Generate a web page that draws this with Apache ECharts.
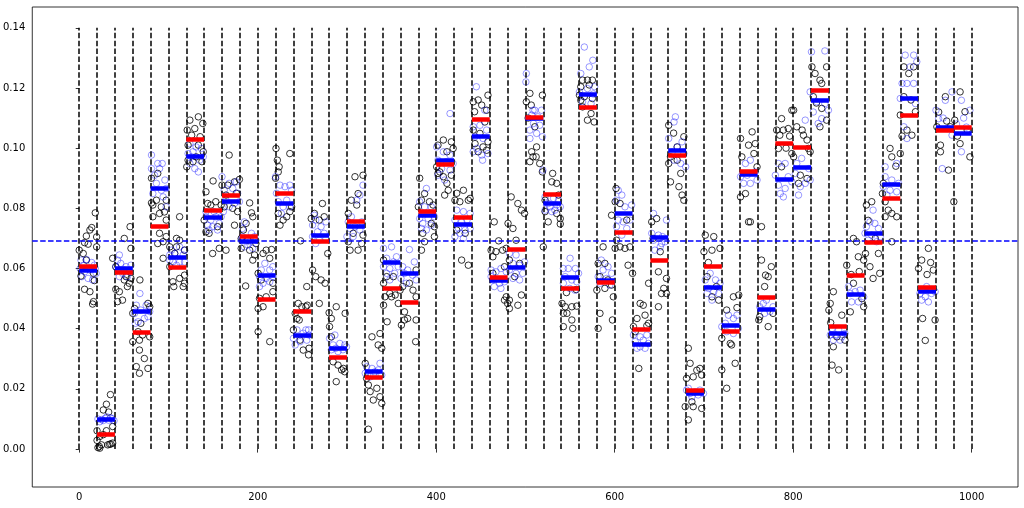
<!DOCTYPE html>
<html><head><meta charset="utf-8">
<script src="https://cdn.jsdelivr.net/npm/echarts@6/dist/echarts.min.js"></script>
<style>html,body{margin:0;padding:0;background:#fff}#c{width:1024px;height:508px}</style>
</head><body><div id="c"></div>
<script>
// group boundaries (dashed vertical lines)
const boundaries = [0,20,40,60,80,100,120,140,160,180,200,220,240,260,280,300,320,340,360,380,400,420,440,460,480,500,520,540,560,580,600,620,640,660,680,700,720,740,760,780,800,820,840,860,880,900,920,940,960,980,1000];
const xTicks = [0,200,400,600,800,1000];
const yTicks = [0,0.02,0.04,0.06,0.08,0.1,0.12,0.14];
const overallMean = 0.0693;

// red bars: mean of observed (black) points per group
const dataMean = [0.0609,0.0048,0.0587,0.0388,0.0742,0.0603,0.1029,0.0792,0.0843,0.0708,0.0497,0.0850,0.0459,0.0691,0.0304,0.0758,0.0239,0.0535,0.0487,0.0790,0.0946,0.0772,0.1097,0.0571,0.0663,0.1102,0.0847,0.0536,0.1136,0.0555,0.0720,0.0397,0.0626,0.0976,0.0194,0.0608,0.0392,0.0922,0.0503,0.1015,0.1004,0.1193,0.0409,0.0578,0.0687,0.0834,0.1110,0.0539,0.1058,0.1069];
// blue bars: mean of sampled (blue) points per group
const sampleMean = [0.0593,0.0099,0.0600,0.0459,0.0867,0.0636,0.0974,0.0771,0.0822,0.0692,0.0579,0.0818,0.0378,0.0711,0.0336,0.0739,0.0257,0.0620,0.0584,0.0776,0.0960,0.0746,0.1041,0.0560,0.0604,0.1100,0.0818,0.0570,0.1180,0.0562,0.0785,0.0348,0.0704,0.0992,0.0185,0.0537,0.0410,0.0914,0.0465,0.0896,0.0938,0.1159,0.0384,0.0514,0.0717,0.0879,0.1165,0.0523,0.1071,0.1049];

// black circles: [offset within group, value]
const dataPts = [
[[18,.0785],[14,.0736],[12,.0728],[8,.0708],[19.5,.0705],[6,.0686],[10,.0681],[19.5,.0672],[0,.0661],[4.5,.065],[8,.0628],[16,.0584],[6,.0531],[12,.0523],[16,.049],[15,.0482],[2,.0575],[17,.0560]],
[[15,.0181],[10.5,.0149],[7,.0130],[13,.0123],[0,.0061],[10.5,.0061],[17.5,.0075],[0,.0029],[2.5,.0009],[3,.0003],[5,.0014],[12,.0014],[15.5,.0017],[17.5,.002],[7,.0048],[3,.0042],[1,.0005],[14,.0016]],
[[17,.0739],[10.5,.0700],[18,.0667],[-2.5,.0634],[1,.0606],[10.5,.0562],[16,.0551],[1,.0531],[5,.0523],[8.5,.0495],[3,.049],[14,.054],[18,.0567],[12.5,.0573]],
[[8,.0562],[17,.0484],[2,.0467],[0,.0451],[0,.0357],[7.5,.0362],[7.5,.0329],[13,.0301],[4,.0274],[17,.0268],[7.5,.0252],[19,.0373],[11,.0379],[6,.0390],[9,.0418],[19,.0473]],
[[1,.09],[8,.0916],[1,.0818],[6.5,.0827],[17.5,.0827],[2.5,.0811],[12,.0805],[15.5,.0788],[2.5,.0772],[10,.0783],[17.5,.0761],[10,.0717],[14,.0689],[8,.0683],[17.5,.0706],[14,.0634]],
[[12.5,.0772],[9,.07],[12.5,.0694],[1.5,.0672],[9,.0672],[18,.0661],[7,.065],[1.5,.0606],[18,.0578],[12.5,.0567],[5,.0556],[18,.0551],[6,.054],[16.5,.054]],
[[4,.1093],[13.5,.1104],[18.5,.1082],[1,.106],[9.5,.1065],[6,.1043],[15.5,.1038],[2,.101],[13.5,.101],[19,.0988],[2,.096],[7.5,.0955],[17.5,.0955],[0.5,.0938],[11,.0971]],
[[10,.0891],[2,.0855],[4,.0816],[13,.0822],[19,.0811],[7.5,.0811],[0,.0761],[2,.0722],[5.5,.0717],[15,.0739],[9.5,.065],[17,.0667]],
[[8,.0977],[0,.0877],[6.5,.0877],[14,.0888],[19.5,.0896],[4.5,.0844],[16,.085],[2.5,.0805],[12,.08],[17.5,.0789],[14,.0744],[4.5,.0661]],
[[11,.0818],[13,.0785],[14.5,.0772],[7,.075],[1.5,.0700],[9,.0694],[18,.0683],[1.5,.0667],[11,.0661],[16.5,.0645],[14.5,.0628],[6.5,.0542],[4,.0728]],
[[15.5,.0663],[9.5,.0661],[6,.065],[13.5,.0634],[0.5,.0584],[4,.0562],[17,.0551],[2,.0501],[9.5,.0506],[0.5,.0467],[17,.0523],[0.5,.0390],[13.5,.0357],[6,.0473]],
[[0.5,.0999],[2,.096],[4,.0938],[16,.0982],[0,.09],[3,.0921],[18,.0805],[16,.0789],[12.5,.0772],[8.5,.0761],[5,.0744],[3,.0783]],
[[5.5,.0484],[9.5,.0473],[15.5,.0478],[2,.0451],[4,.0434],[0,.0396],[7.5,.0362],[11,.0329],[17,.0313],[15,.054],[14,.0473],[6.5,.0429],[17.5,.0335],[8,.0692]],
[[12.5,.0816],[3.5,.0783],[0,.0766],[14.5,.0772],[9,.0761],[18.5,.065],[1.5,.0595],[5,.0573],[11,.0562],[15.5,.0551],[9,.0484]],
[[8,.0473],[0,.0453],[2.5,.0434],[18,.0451],[0.5,.0407],[2.5,.0373],[4.5,.029],[10,.0279],[14,.0263],[17.5,.0257],[8,.0224],[16,.0268]],
[[9,.0905],[18,.0910],[12.5,.0849],[5,.0827],[11,.0811],[1.5,.0783],[7,.0717],[1.5,.0689],[12.5,.0661],[3.5,.0661],[16.5,.0683],[18,.0711]],
[[8,.0373],[17,.0384],[15,.0346],[19,.0335],[0.5,.0285],[4,.0213],[13.5,.0202],[6,.0191],[9.5,.0163],[19,.0152],[4,.0066],[2,.0235],[17,.0174]],
[[1,.0628],[4.5,.0573],[12,.0573],[1,.0551],[8,.0517],[2.5,.0506],[14,.0512],[19.5,.0528],[1,.0478],[17.5,.0484],[5,.0423],[10,.0506]],
[[17.5,.0595],[10,.0551],[2.5,.054],[14,.0528],[17.5,.0506],[4.5,.0429],[8,.0434],[1,.0412],[17.5,.0429],[17,.0357],[4.5,.0456]],
[[1.5,.09],[3.5,.0827],[7,.0849],[12.5,.0822],[16.5,.0811],[0,.0805],[14.5,.075],[18,.0739],[5,.0717],[7,.0689],[18,.0706],[3.5,.0661]],
[[8,.1027],[17,.1021],[2,.101],[12,.0988],[19,.0999],[0.5,.0938],[4,.0921],[8,.0905],[17,.091],[12,.0883],[9.5,.0844],[13.5,.086],[2,.0916]],
[[3,.085],[10.5,.086],[16,.0827],[1,.0827],[6.5,.0822],[18,.0833],[8.5,.0628],[16,.0611],[12.5,.0717],[3,.0728]],
[[18,.1176],[1.5,.1154],[7,.116],[11,.1143],[16.5,.1126],[3,.1121],[14.5,.1087],[1.5,.106],[9,.1049],[18,.1021],[3.5,.1015],[12.5,.1004],[7,.0988],[16.5,.0993]],
[[5,.0755],[10,.0692],[1.5,.0661],[7,.0656],[14.5,.0661],[18.5,.0667],[3.5,.0639],[16.5,.0606],[3.5,.0584],[18.5,.0506],[20,.0484],[22,.0467],[16.5,.0495]],
[[4,.0838],[11.5,.0816],[15.5,.0794],[19,.0783],[0.5,.075],[6,.0733],[9.5,.0694],[2,.0628],[13.5,.0617],[8,.0573],[15.5,.0512],[2,.0495],[11.5,.0478]],
[[1,.1154],[6.5,.1143],[5,.1182],[19,.1176],[10.5,.1071],[12.5,.1004],[7,.0988],[8.5,.0971],[5,.0955],[16,.0949],[19,.0921],[12,.0971],[3,.1100]],
[[10.5,.0916],[9.5,.0888],[15,.0883],[2,.0827],[17,.0844],[2,.0789],[15,.0783],[19,.0766],[5.5,.0755],[19,.0748],[0,.0672]],
[[1,.0484],[4.5,.0473],[12,.0473],[17.5,.0475],[2.5,.0451],[6.5,.0451],[2.5,.0407],[12,.0429],[13,.0401],[17,.0530],[6,.0520]],
[[4,.1226],[9.5,.1226],[15,.1226],[2,.1204],[11.5,.121],[0.5,.1176],[6,.1171],[15,.1165],[4,.1137],[13.5,.1115],[17,.1087],[9.5,.1093],[2,.1159]],
[[7,.0672],[1.5,.0617],[9,.0617],[3.5,.0573],[12.5,.0562],[16.5,.0545],[0,.0528],[9,.0534],[18.5,.0506],[3.5,.0451],[17.5,.0429],[1.5,.0401],[16.5,.0777]],
[[1.5,.0866],[0.5,.0822],[6,.0816],[13.5,.0761],[2,.0694],[6,.0672],[17,.0672],[0.5,.0667],[11.5,.0667],[15,.0611],[20,.0584]],
[[8.5,.0484],[12,.0478],[5,.0434],[14,.0445],[18,.0418],[1,.0407],[7,.0268],[3,.0390],[16,.0410]],
[[1.5,.0755],[7,.0766],[11,.0656],[9,.0589],[18,.0567],[15,.0534],[12.5,.0517],[18,.0517],[9,.0473],[-2,.0551],[3,.0700]],
[[0.5,.1076],[17.5,.1038],[10,.1004],[2.5,.0971],[10,.096],[0.5,.0949],[14,.0916],[2.5,.0888],[12,.0872],[15.5,.0844],[17.5,.0827],[6,.1050]],
[[2.5,.0335],[4.5,.0285],[15.5,.0268],[0.5,.0235],[8,.024],[17.5,.0246],[-1,.0141],[8,.0141],[17.5,.0135],[2.5,.0097],[6.5,.0157],[12,.0262]],
[[1.5,.0711],[11,.0706],[0,.0656],[9,.0661],[18,.0667],[3.5,.0573],[9,.0506],[16.5,.0495],[14,.0540],[5,.0620]],
[[13,.0506],[19,.0512],[5.5,.0462],[0,.0368],[9.5,.0351],[11,.0346],[0,.0263],[15,.0285],[5.5,.0202],[17,.0470]],
[[14,.1054],[1,.1032],[10,.101],[17.5,.1015],[16,.0982],[2.5,.0971],[19.5,.0938],[1,.0838],[6.5,.0849],[10,.0755],[12,.0755]],
[[4.5,.0739],[4.5,.0628],[15.5,.0606],[12,.0573],[8,.054],[2.5,.044],[12,.0407],[17.5,.0451],[9,.0578],[1.5,.0429]],
[[7,.1098],[18.5,.1126],[1.5,.1060],[9,.106],[14.5,.1065],[5,.1043],[3.5,.0999],[18.5,.0982],[7,.0938],[12,.1000],[16,.1040]],
[[0.5,.1126],[4,.1071],[10,.106],[11.5,.1043],[15.5,.1027],[17,.0999],[0.5,.0971],[8,.091],[15.5,.0899],[6,.0883],[19,.0988]],
[[1,.127],[17.5,.127],[4.5,.1248],[10,.1226],[12,.1215],[2.5,.1171],[12,.1132],[10,.1071],[17.5,.1093],[6,.1150]],
[[5,.0523],[1.5,.0484],[0,.0462],[14.5,.0445],[5,.034],[3.5,.0279],[11,.0263],[9,.0373],[18,.0362],[2,.0420]],
[[7.5,.07],[11,.0689],[13,.0639],[19,.0628],[0,.0611],[7.5,.0551],[17,.05],[19,.0473],[4,.0456],[5,.0580],[14,.0590]],
[[2,.0811],[8,.0822],[6,.0606],[15.5,.065],[17,.0584],[9.5,.0567],[4,.0760],[12,.0700],[1,.0650]],
[[8.5,.0999],[10.5,.0971],[20,.0982],[1,.0883],[3,.0822],[6.5,.0794],[16,.0772],[3,.0772],[10.5,.0783],[0,.0849],[10.5,.0689],[15,.0940]],
[[4,.127],[15,.127],[9.5,.1248],[4,.1171],[0,.111],[17,.1121],[7.5,.106],[13,.1043],[12,.1160],[2,.1040]],
[[11.5,.0667],[4,.0628],[0.5,.06],[17,.0595],[5,.0434],[8,.0361],[19,.0429],[10,.0580],[14,.0620]],
[[10.5,.1171],[1,.1071],[16,.1071],[5,.101],[5,.0988],[14,.0927],[20,.0822],[3,.1120],[12,.1090]],
[[7,.1187],[12.5,.1121],[1,.1093],[7,.1015],[18,.0971],[15,.1060],[4,.1040]]
];

// blue circles: [offset within group, value]
const samplePts = [
[[2,.0628],[8,.0630],[17,.0611],[1,.060],[6,.0589],[12,.0595],[19,.0584],[3,.0573],[10,.0567],[15,.0562],[5,.0611],[14,.0620],[18,.060]],
[[1,.0100],[5,.0098],[9,.0102],[13,.0096],[17,.0101],[19,.0094],[3,.0091],[11,.0107],[7,.0095],[15,.0104]],
[[5,.0645],[3,.0628],[6.5,.0617],[1,.0606],[12.5,.0606],[18,.0611],[5,.0573],[14,.0573],[8.5,.0584],[16,.0589],[10.5,.0595]],
[[8,.0517],[4,.0478],[15,.0478],[2,.0451],[19,.0457],[6,.0423],[13,.0434],[9,.0462],[17,.044],[3,.0418]],
[[1,.0977],[8,.0949],[13,.0949],[1,.0932],[10,.0932],[4.5,.0910],[16,.0894],[6.5,.0883],[17.5,.0866],[2.5,.0849],[12,.086],[14,.0838],[17.5,.0805]],
[[3.5,.0661],[12.5,.0672],[18,.0661],[1.5,.0645],[7,.065],[16.5,.0645],[5,.0622],[12.5,.0622],[18,.0622],[9,.0611],[1.5,.0628]],
[[4,.1015],[11,.1004],[17,.0999],[2,.0982],[7.5,.0988],[15,.096],[4,.0949],[9.5,.0932],[13.5,.0921],[6,.0971],[19,.0971]],
[[2,.0772],[7.5,.0761],[13,.0772],[19,.0772],[4,.0744],[9.5,.0739],[17,.075],[5.5,.0728],[15,.0728],[11,.0789],[2,.0789]],
[[0,.0905],[8,.0883],[16,.0888],[2.5,.086],[12,.0866],[17.5,.085],[4.5,.0827],[14,.0816],[8,.0805],[19.5,.0822],[1.5,.0789]],
[[5,.0755],[3,.0733],[13,.0717],[1.5,.0694],[11,.0689],[18,.0694],[5,.0672],[14.5,.0667],[9,.0678],[3,.0706],[16.5,.0706]],
[[17,.0606],[8,.0617],[4,.0595],[13.5,.0595],[2,.0573],[9.5,.0567],[17,.0573],[6,.0551],[13.5,.0556],[2,.054]],
[[0,.0905],[5,.0877],[10.5,.0872],[16,.0877],[18,.086],[1,.085],[8.5,.0805],[12.5,.0827],[3,.0822],[16,.0805],[6.5,.0783]],
[[4,.0396],[11,.0385],[17,.0396],[0,.0368],[7.5,.0357],[15,.0362],[2,.0346],[14,.0396],[17.5,.0379]],
[[3.5,.0777],[5,.0761],[16.5,.0755],[1.5,.0744],[11,.0739],[7,.0722],[14.5,.0717],[1.5,.0706],[9,.0694],[16.5,.07],[5,.0683]],
[[0.5,.0368],[6.5,.0379],[4.5,.0346],[12,.0351],[17.5,.0346],[2.5,.033],[10,.0324],[15.5,.033],[7.5,.0335],[19.5,.034]],
[[18,.0877],[14.5,.0844],[11,.0827],[5,.0772],[1.5,.0755],[16.5,.0755],[9,.0739],[14.5,.0728],[3.5,.0733],[7,.0706],[0,.0706]],
[[2,.0274],[17,.0285],[8,.0268],[11.5,.0257],[0.5,.0252],[19,.0246],[6,.024],[15,.0263],[10,.0246]],
[[1,.0667],[10,.0672],[4.5,.0634],[15.5,.0639],[12,.0622],[1,.0606],[8,.06],[17.5,.0606],[4.5,.0584],[13.5,.0584],[8,.0562]],
[[10,.0663],[15.5,.0622],[2.5,.0606],[8,.0595],[13.5,.0578],[0.5,.0567],[6.5,.0551],[17.5,.0562],[4.5,.0584]],
[[9,.0866],[1.5,.0822],[7,.0805],[14.5,.0805],[1.5,.0766],[11,.0766],[18,.0772],[5,.075],[14.5,.0744],[3.5,.0733],[9,.0728]],
[[15.5,.1115],[0.5,.1004],[8,.0988],[15.5,.0977],[2,.096],[11.5,.0955],[19,.0949],[6,.0932],[15.5,.0927],[2,.091],[9.5,.0894]],
[[3,.0794],[10.5,.0789],[18,.0783],[1,.0761],[8.5,.0755],[14.5,.0761],[5,.0733],[12.5,.0728],[18,.0733],[1,.0706],[10.5,.07],[6.5,.0717]],
[[5,.1204],[14.5,.1126],[1.5,.1071],[9,.1076],[16.5,.106],[3.5,.1038],[12.5,.1032],[5.5,.0999],[11,.0977],[18,.0982],[1.5,.0988],[12,.096]],
[[1.5,.0595],[7,.0589],[12.5,.06],[18.5,.0589],[3.5,.0562],[11,.0551],[16.5,.0556],[5,.054],[12.5,.0534],[1.5,.0573]],
[[2,.065],[9.5,.0645],[19,.0622],[6,.0617],[13.5,.0611],[2,.0595],[9.5,.0584],[17,.0584],[6,.0567],[13.5,.0562]],
[[1,.1248],[0.5,.1220],[8.5,.1126],[5,.1032],[10.5,.1126],[18,.1126],[7,.111],[14,.1104],[9,.1082],[16,.1076],[5,.106],[12.5,.1049],[19,.1038],[19.5,.0927]],
[[2,.0838],[11.5,.0833],[17,.0827],[5.5,.0816],[15,.0811],[2,.0794],[9.5,.0789],[19,.0805],[7.5,.0805],[13,.0794]],
[[10,.0634],[2.5,.06],[8,.06],[16,.06],[19.5,.0584],[4.5,.0573],[12,.0562],[17.5,.0556],[2.5,.0551],[9.5,.0534],[15.5,.0528]],
[[6,.1336],[15.5,.1292],[11.5,.127],[2,.1248],[17.5,.1204],[9.5,.1198],[0.5,.1187],[13.5,.1148],[4,.1154],[16,.1180]],
[[5,.0628],[12.5,.0606],[7,.0595],[16.5,.0584],[1.5,.0573],[11,.0567],[3.5,.0551],[14.5,.0545]],
[[4,.086],[8,.0844],[2,.0827],[11.5,.0805],[19,.0811],[4,.0761],[9.5,.0755],[17,.0761],[2,.0739],[13.5,.0733],[8,.0711]],
[[1,.0379],[8.5,.0373],[16,.0379],[3,.0357],[12,.0362],[5,.0335],[14,.0335],[18,.0351],[8.5,.034]],
[[3.5,.0783],[18,.0761],[1.5,.0717],[9,.0711],[13.5,.0706],[3.5,.0694],[12.5,.0683],[5,.0661],[16.5,.0689],[11,.0672]],
[[8,.1104],[6.5,.1087],[0.5,.1032],[15.5,.1021],[10,.1004],[4.5,.0988],[17.5,.0982],[6.5,.096],[14,.0949],[19.5,.0938]],
[[0.5,.0196],[4.5,.0185],[10,.019],[15.5,.0196],[19.5,.0185],[6.5,.0174],[13.5,.0180],[2.5,.0202]],
[[7,.0584],[1.5,.0562],[13,.0562],[18,.0551],[5,.0534],[11,.0523],[9,.0495],[16.5,.0517],[3.5,.0517]],
[[7.5,.0445],[13,.0434],[17,.0445],[4,.0418],[0,.0407],[5.5,.039],[13,.0384],[18.5,.0401]],
[[12,.096],[6.5,.0949],[1,.0905],[19.5,.0894],[8.5,.091],[4.5,.0883],[12,.0883],[17.5,.0921]],
[[10,.0495],[6.5,.0484],[17.5,.0473],[14,.0457],[2.5,.0473],[8,.0451]],
[[3.5,.0949],[11,.0949],[0,.091],[14.5,.0905],[3.5,.0877],[11,.0866],[5.5,.0849],[9,.0838],[18.5,.0888]],
[[13.5,.1093],[9.5,.0966],[4,.0949],[17.5,.0932],[2.5,.0916],[8,.0872],[19,.0894],[6,.0844],[13.5,.0883]],
[[0.5,.132],[15.5,.1323],[-1,.1187],[6.5,.1154],[15.5,.1148],[19.5,.1126],[2.5,.112],[12,.1098],[8,.1082]],
[[3.5,.0401],[11,.0396],[1.5,.0379],[7,.0379],[14.5,.0373],[5,.0362],[12.5,.0362],[18,.0384]],
[[2,.054],[15,.0528],[4,.0517],[19,.0506],[5.5,.0489],[13,.0489],[9.5,.0523]],
[[9.5,.0794],[6,.0755],[11.5,.075],[2,.0739],[15.5,.0733],[0.5,.0717],[8,.0711],[17.5,.0706],[4,.0694],[13.5,.0689]],
[[3,.0938],[16,.0949],[3,.0905],[10.5,.0894],[18,.0883],[1,.0872],[8.5,.086],[16,.0855],[5,.0844]],
[[5.5,.1309],[15,.1309],[18.5,.1287],[11,.127],[2,.1215],[7.5,.1215],[15,.1215],[0,.1165],[17,.1148],[7.5,.1032],[4,.1071]],
[[2,.0517],[8,.0506],[15,.0517],[19,.0523],[9.5,.054],[4,.0495],[11.5,.0489]],
[[10.5,.1159],[18,.1187],[0,.1126],[3,.1098],[12.5,.1065],[18,.1043],[7,.0932],[8,.1100]],
[[8.5,.1159],[18,.1126],[8.5,.0988],[3,.1080],[14,.1070],[11,.1100]]
];

const X_MIN = -52.6, X_MAX = 1051.9, Y_MIN = -0.0126, Y_MAX = 0.1469;

function toXY(pts) {
  const out = [];
  pts.forEach((grp, g) => grp.forEach(p => out.push([boundaries[g] + p[0], p[1]])));
  return out;
}
const vlines = boundaries.map(b => ({coords: [[b, 0], [b, 0.14]]}));
const redBars = dataMean.map((m, g) => ({coords: [[boundaries[g], m], [boundaries[g + 1], m]]}));
const blueBars = sampleMean.map((m, g) => ({coords: [[boundaries[g], m], [boundaries[g + 1], m]]}));

const font = 'DejaVu Sans';
const chart = echarts.init(document.getElementById('c'), null, {renderer: 'canvas'});
chart.setOption({
  animation: false,
  backgroundColor: '#fff',
  grid: {left: 32, top: 7, right: 6, bottom: 21, show: true, borderColor: '#000', borderWidth: 0.8, backgroundColor: 'transparent'},
  xAxis: {
    type: 'value', min: X_MIN, max: X_MAX,
    axisLine: {show: false}, splitLine: {show: false},
    axisTick: {show: true, length: 3.5, customValues: xTicks, lineStyle: {color: '#000', width: 0.8}},
    axisLabel: {customValues: xTicks, color: '#000', fontSize: 10, fontFamily: font, margin: 5,
      formatter: v => String(v)}
  },
  yAxis: {
    type: 'value', min: Y_MIN, max: Y_MAX,
    axisLine: {show: false}, splitLine: {show: false},
    axisTick: {show: true, length: 3.5, customValues: yTicks, lineStyle: {color: '#000', width: 0.8}},
    axisLabel: {customValues: yTicks, color: '#000', fontSize: 10, fontFamily: font, margin: 7,
      formatter: v => v.toFixed(2)}
  },
  series: [
    {type: 'scatter', name: 'data', z: 2, symbol: 'circle', symbolSize: 6.5, data: toXY(dataPts),
      itemStyle: {color: 'rgba(0,0,0,0)', borderColor: '#000', borderWidth: 1}},
    {type: 'scatter', name: 'samples', z: 3, symbol: 'circle', symbolSize: 6.5, data: toXY(samplePts),
      itemStyle: {color: 'rgba(0,0,0,0)', borderColor: 'rgba(0,0,255,0.5)', borderWidth: 1}},
    {type: 'lines', coordinateSystem: 'cartesian2d', z: 4, data: vlines, silent: true,
      lineStyle: {color: '#000', width: 1.5, type: [5.5, 2.4], opacity: 1}},
    {type: 'lines', coordinateSystem: 'cartesian2d', z: 4, silent: true,
      data: [{coords: [[X_MIN, overallMean], [X_MAX, overallMean]]}],
      lineStyle: {color: '#0000ff', width: 1.5, type: [5.5, 2.4], opacity: 1}},
    {type: 'lines', coordinateSystem: 'cartesian2d', z: 5, data: blueBars, silent: true,
      lineStyle: {color: '#0000ff', width: 4.5, opacity: 1, cap: 'butt'}},
    {type: 'lines', coordinateSystem: 'cartesian2d', z: 6, data: redBars, silent: true,
      lineStyle: {color: '#ff0000', width: 4.5, opacity: 1, cap: 'butt'}}
  ]
});
</script>
</body></html>
